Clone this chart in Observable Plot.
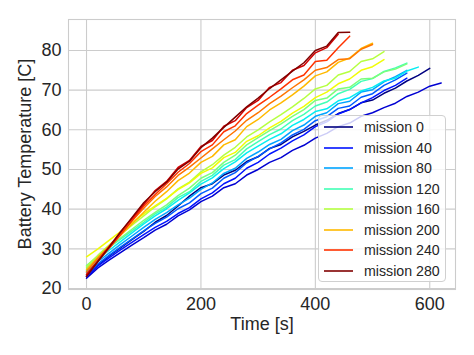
<!DOCTYPE html>
<html>
<head>
<meta charset="utf-8">
<script src="https://cdn.jsdelivr.net/npm/d3@7"></script>
<script src="https://cdn.jsdelivr.net/npm/@observablehq/plot@0.6"></script>
<style>
  body { margin: 0; background: #fff; }
  #wrap { position: relative; width: 474px; height: 355px; font-family: "Liberation Sans", Arial, sans-serif; color: #262626; }
  #legend { position: absolute; left: 318px; top: 115px; width: 128px; height: 167px; box-sizing: border-box;
            border: 1px solid #d0d0d0; border-radius: 4px; background: rgba(255,255,255,0.8); }
  .row { position: absolute; left: 0; height: 20px; display: flex; align-items: center; font-size: 14.2px; white-space: nowrap; }
  .row svg { margin-left: 4px; margin-right: 10px; }
  #ylabel { position: absolute; left: 25px; top: 154px; transform: translate(-50%, -50%) rotate(-90deg);
            font-size: 18px; white-space: nowrap; line-height: 1; }
</style>
</head>
<body>
<div id="wrap"><div id="legend"></div><div id="ylabel">Battery Temperature [C]</div></div>
<script>
// Step between samples (s)
const step = 20;
const missions = [0, 20, 40, 60, 80, 100, 120, 140, 160, 180, 200, 220, 240, 260, 280];
const legendMissions = [0, 40, 80, 120, 160, 200, 240, 280];
const xTicks = [0, 200, 400, 600];
const yTicks = [20, 30, 40, 50, 60, 70, 80];

const m0 = [23.0,25.9,28.2,30.3,32.4,34.4,36.7,38.4,40.8,43.3,45.4,46.4,48.6,49.8,52.0,53.2,55.3,56.3,58.2,59.6,61.2,62.4,64.1,65.1,66.8,67.5,69.2,70.5,72.3,73.7,75.5];
const m20 = [22.6,25.2,27.2,29.1,31.0,32.8,34.7,36.2,38.3,39.8,41.9,43.3,45.4,46.4,48.6,50.0,51.8,53.0,54.8,56.1,57.9,59.1,60.8,61.7,63.4,64.3,65.6,66.7,68.4,69.5,71.0,71.8];
const m40 = [23.0,25.7,27.8,29.8,31.7,33.6,35.4,36.9,38.9,40.4,42.6,44.1,46.4,47.8,50.3,51.8,53.9,55.4,57.2,58.7,60.8,62.0,64.0,65.1,66.8,68.1,69.9,71.2,73.0];
const m60 = [23.4,26.2,28.4,30.5,32.5,34.5,36.4,38.0,40.1,41.6,43.9,45.3,47.8,49.2,51.7,53.3,55.2,56.7,58.7,60.1,62.3,63.3,65.4,66.0,68.2,69.1,71.2,72.6,74.3];
const m80 = [24.0,26.8,29.0,31.2,33.3,35.4,37.4,39.1,41.1,42.8,45.0,46.6,49.0,50.3,52.8,54.4,56.3,57.6,59.8,61.2,63.4,64.3,66.6,67.2,69.5,70.1,72.1,73.4,75.0];
const m100 = [24.6,27.4,29.7,31.9,34.1,36.3,38.3,40.1,42.2,44.1,46.3,47.9,50.2,51.9,54.2,55.9,57.6,59.0,61.1,62.6,64.6,65.3,67.3,68.1,69.8,70.7,72.3,73.0,74.8,75.8];
const m120 = [25.8,28.2,30.4,32.5,34.6,36.7,38.8,40.5,42.9,44.4,47.0,48.5,51.1,52.5,55.2,57.0,58.8,60.2,62.3,63.9,66.0,67.0,69.1,70.2,72.2,72.9,74.7,75.6,76.8];
const m140 = [25.2,28.0,30.5,32.8,35.0,37.2,39.2,41.1,43.4,45.3,47.8,49.2,51.8,53.6,56.2,58.0,59.8,61.5,63.4,65.1,67.4,68.0,70.3,70.7,72.8,73.0,74.6,75.3,76.6];
const m160 = [25.6,28.4,31.0,33.6,36.0,38.3,40.6,42.6,45.1,46.8,49.4,51.2,53.6,55.6,58.2,60.0,62.0,63.8,65.8,67.9,70.3,71.2,73.8,74.7,77.2,77.9,79.7];
const m180 = [28.0,30.0,32.2,34.4,36.6,38.8,40.8,42.7,44.9,46.6,49.0,50.4,53.0,54.3,57.1,58.5,60.5,62.1,64.2,65.9,68.1,69.5,71.6,72.8,75.0,75.9,77.7];
const m200 = [24.8,27.9,30.7,33.5,36.3,39.2,42.0,44.4,47.2,49.1,51.8,53.3,56.2,57.5,60.8,62.6,65.0,66.8,68.8,71.0,73.6,74.6,77.0,78.1,80.5,81.8];
const m220 = [24.2,27.6,30.8,33.9,37.1,40.2,43.2,45.6,48.5,50.6,52.9,55.2,57.5,59.7,62.4,64.3,66.6,68.5,70.6,72.6,75.0,75.7,77.7,77.9,80.3,81.5];
const m240 = [23.6,26.9,30.2,33.6,37.2,40.8,43.7,46.4,49.3,51.5,54.5,56.2,59.5,61.0,64.1,66.2,68.2,70.3,72.6,73.8,77.2,77.5,80.7,83.6];
const m260 = [23.4,27.0,30.6,34.4,37.7,41.2,44.7,47.0,50.5,52.3,55.8,57.3,60.9,62.3,65.6,67.4,70.7,71.9,75.0,76.2,79.4,80.7,84.1];
const m280 = [23.0,26.8,30.5,34.3,38.0,41.6,44.4,46.8,50.1,52.1,55.5,57.9,60.6,63.2,65.8,68.0,70.4,72.6,74.8,76.9,80.0,81.1,84.5,84.6];

const series = [m0, m20, m40, m60, m80, m100, m120, m140, m160, m180, m200, m220, m240, m260, m280];

// matplotlib "jet" colormap
const jetSeg = {
  r: [[0,0],[0.35,0],[0.66,1],[0.89,1],[1,0.5]],
  g: [[0,0],[0.125,0],[0.375,1],[0.64,1],[0.91,0],[1,0]],
  b: [[0,0.5],[0.11,1],[0.34,1],[0.65,0],[1,0]]
};
function seg(s, x) {
  for (let k = 1; k < s.length; k++) {
    if (x <= s[k][0]) {
      const [x0, y0] = s[k-1], [x1, y1] = s[k];
      return y0 + (y1 - y0) * (x - x0) / (x1 - x0);
    }
  }
  return s[s.length-1][1];
}
function jet(x) {
  return d3.rgb(255*seg(jetSeg.r,x), 255*seg(jetSeg.g,x), 255*seg(jetSeg.b,x)).formatHex();
}
const colors = missions.map((m, i) => jet(i / (missions.length - 1)));

const rows = [];
series.forEach((vals, i) => vals.forEach((v, j) => rows.push({mission: missions[i], t: j * step, T: v})));

const chart = Plot.plot({
  width: 474,
  height: 355,
  marginLeft: 68,
  marginRight: 19,
  marginTop: 19,
  marginBottom: 66,
  style: {fontFamily: '"Liberation Sans", Arial, sans-serif', fontSize: "18px", color: "#262626", background: "#fff"},
  x: {domain: [-31.5, 645]},
  y: {domain: [19.75, 87.8]},
  color: {type: "ordinal", domain: missions, range: colors},
  marks: [
    Plot.gridX(xTicks, {stroke: "#cccccc", strokeOpacity: 1, strokeWidth: 1.1}),
    Plot.gridY(yTicks, {stroke: "#cccccc", strokeOpacity: 1, strokeWidth: 1.1}),
    Plot.frame({stroke: "#cccccc", strokeWidth: 1.1}),
    Plot.line(rows, {x: "t", y: "T", z: "mission", stroke: "mission", strokeWidth: 1.5}),
    Plot.axisX(xTicks, {tickSize: 0, tickPadding: 8, label: null, fontSize: 18}),
    Plot.axisY(yTicks, {tickSize: 0, tickPadding: 7, label: null, fontSize: 18}),
    Plot.text(["Time [s]"], {frameAnchor: "bottom", dy: 35, fontSize: 18, lineAnchor: "middle"})
  ]
});
document.getElementById("wrap").insertBefore(chart, document.getElementById("legend"));

const legend = document.getElementById("legend");
const svgNS = "http://www.w3.org/2000/svg";
legendMissions.forEach((m, k) => {
  const row = document.createElement("div");
  row.className = "row";
  row.style.top = (1 + k * 20.5) + "px";
  const sw = document.createElementNS(svgNS, "svg");
  sw.setAttribute("width", "31");
  sw.setAttribute("height", "6");
  const ln = document.createElementNS(svgNS, "line");
  ln.setAttribute("x1", "1"); ln.setAttribute("x2", "30");
  ln.setAttribute("y1", "3"); ln.setAttribute("y2", "3");
  ln.setAttribute("stroke", colors[missions.indexOf(m)]);
  ln.setAttribute("stroke-width", "1.6");
  sw.appendChild(ln);
  const label = document.createElement("span");
  label.textContent = "mission " + m;
  row.appendChild(sw);
  row.appendChild(label);
  legend.appendChild(row);
});
</script>
</body>
</html>
